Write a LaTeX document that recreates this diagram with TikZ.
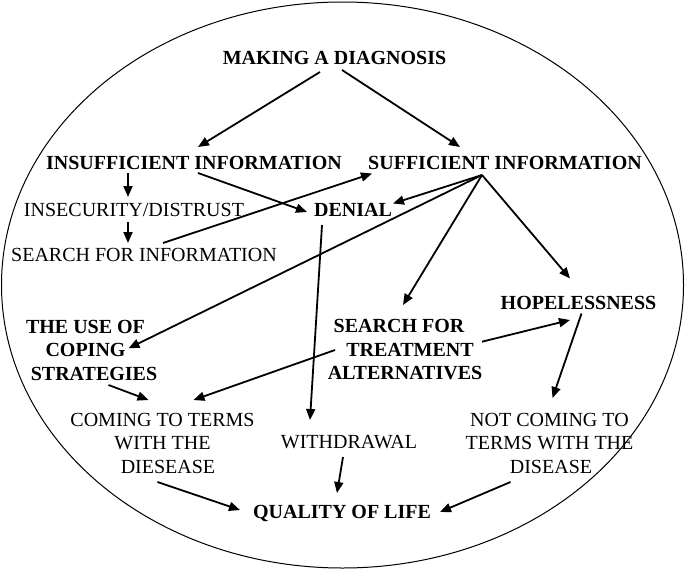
\documentclass[tikz,border=0pt]{standalone}
\usepackage{fontspec}
\setmainfont{Liberation Serif}
\usetikzlibrary{arrows.meta,calc}
\begin{document}
\begin{tikzpicture}[x=1pt,y=-1pt,
  txt/.style={inner sep=0pt,font=\fontsize{20}{23.5}\selectfont},
  one/.style={txt,text height=13.2pt,text depth=0pt},
  bold/.style={one,font=\fontsize{20}{23.5}\selectfont\bfseries},
  multi/.style={txt,align=center},
  bmulti/.style={multi,font=\fontsize{20}{23.5}\selectfont\bfseries},
  arr/.style={line width=1.8pt,-{Triangle[length=11pt,width=9pt]}}]
\useasboundingbox (0,0) rectangle (685,570);
\draw[line width=1pt] (342.5,285) ellipse [x radius=341, y radius=283];

\node[bold] (mad) at (334.5,58.3) {MAKING A DIAGNOSIS};
\node[bold] (insuf) at (194,162.5) {INSUFFICIENT INFORMATION};
\node[bold] (suff) at (505,162.5) {SUFFICIENT INFORMATION};
\node[one] (insec) at (134,210) {INSECURITY/DISTRUST};
\node[one] (sfi) at (144,255) {SEARCH FOR INFORMATION};
\node[bold] (denial) at (353,210) {DENIAL};
\node[bmulti] (coping) at (85.5,350) {THE USE OF\\COPING\\\hspace*{17pt}STRATEGIES};
\node[bmulti] (treat) at (405,350) {SEARCH FOR\hspace*{12pt}\\\hspace*{10pt}TREATMENT\\ALTERNATIVES};
\node[bold] (hope) at (578.5,302.5) {HOPELESSNESS};
\node[multi] (coming) at (162.5,443) {COMING TO TERMS\\WITH THE\hspace*{15pt}\\\hspace*{11pt}DIESEASE};
\node[one] (withd) at (349,442) {WITHDRAWAL};
\node[multi] (notc) at (549.5,443) {NOT COMING TO\\TERMS WITH THE\hspace*{27pt}\\\hspace*{3pt}DISEASE};
\node[bold] (qol) at (342,512) {QUALITY OF LIFE};

\draw[arr] ($(mad)+(-14.5,13.7)$) -- ($(insuf)+(4,-15.5)$);
\draw[arr] ($(mad)+(7.5,11.7)$) -- ($(suff)+(-45,-15.5)$);
\draw[arr] ($(insuf)+(-66,10.5)$) -- ($(insec)+(-6,-13)$);
\draw[arr] ($(insec)+(-6,12)$) -- ($(sfi)+(-16,-12)$);
\draw[arr] ($(insuf)+(4,10.5)$) -- ($(denial)+(-46,2)$);
\draw[arr] ($(sfi)+(19,-12)$) -- ($(suff)+(-133,11)$);
\draw[arr] ($(suff)+(-23,12.5)$) -- ($(denial)+(40,-6.5)$);
\draw[arr] ($(suff)+(-23,12.5)$) -- ($(coping)+(43,-1.7)$);
\draw[arr] ($(suff)+(-23,12.5)$) -- ($(treat)+(-2,-45)$);
\draw[arr] ($(suff)+(-23,12.5)$) -- ($(hope)+(-8.5,-24)$);
\draw[arr] ($(denial)+(-31,15)$) -- ($(withd)+(-39,-22)$);
\draw[arr] ($(coping)+(23,35)$) -- ($(coming)+(-14,-43)$);
\draw[arr] ($(treat)+(-70,0)$) -- ($(coming)+(31,-43)$);
\draw[arr] ($(treat)+(77,-8.3)$) -- ($(hope)+(-8.5,17.5)$);
\draw[arr] ($(hope)+(3,11)$) -- ($(notc)+(3,-45)$);
\draw[arr] ($(coming)+(-5,39)$) -- ($(qol)+(-102,-2)$);
\draw[arr] ($(withd)+(-6,15)$) -- ($(qol)+(-5,-19)$);
\draw[arr] ($(notc)+(-39,39)$) -- ($(qol)+(98,0)$);
\end{tikzpicture}
\end{document}
